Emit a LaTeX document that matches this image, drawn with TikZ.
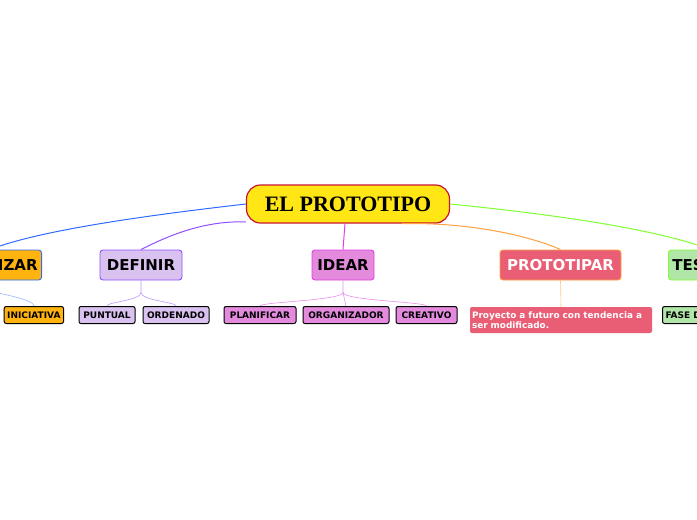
\documentclass[tikz,border=0pt]{standalone}
\usepackage{fontspec}
\setmainfont{DejaVu Sans}
\newfontfamily\titlefont{Liberation Serif}
\begin{document}
\begin{tikzpicture}[x=1pt,y=-1pt,
 branch/.style={draw,line width=0.9pt,rounded corners=3pt,minimum height=30pt,inner xsep=4pt,font=\bfseries\fontsize{15}{15}\selectfont,text=black},
 leaf/.style={draw=black,line width=1pt,rounded corners=2pt,minimum height=17pt,inner xsep=3pt,font=\bfseries\fontsize{9}{9}\selectfont},
 edge/.style={line width=1pt},
 sub/.style={line width=0.6pt}]
\useasboundingbox (0,0) rectangle (697,520);
\clip (0,0) rectangle (697,520);
\definecolor{orB}{HTML}{FFB30F}\definecolor{blB}{HTML}{2F6BFF}
\definecolor{dfF}{HTML}{D9C2F0}\definecolor{dfB}{HTML}{9050FF}
\definecolor{idF}{HTML}{E38ADD}\definecolor{idB}{HTML}{E040E0}
\definecolor{prF}{HTML}{E95E75}\definecolor{prB}{HTML}{FFA040}
\definecolor{tsF}{HTML}{B0E6A8}\definecolor{tsB}{HTML}{80FF30}
\node[draw={rgb,255:red,200;green,20;blue,50},fill={rgb,255:red,255;green,230;blue,20},line width=1.2pt,rounded corners=14pt,minimum width=203pt,minimum height=38pt,font=\titlefont\bfseries\fontsize{22}{22}\selectfont] (root) at (348,204) {EL PROTOTIPO};
\node[branch,fill=orB,draw=blB,anchor=east] (emp) at (42,265) {EMPATIZAR};
\node[branch,fill=dfF,draw=dfB,minimum width=82pt] (def) at (141,265) {DEFINIR};
\node[branch,fill=idF,draw=idB,minimum width=62pt] (ide) at (343,265) {IDEAR};
\node[branch,fill=prF,draw=prB,minimum width=121pt,text=white] (pro) at (560.5,265) {PROTOTIPAR};
\node[branch,fill=tsF,draw=tsB,anchor=west] (tes) at (668,265) {TESTEAR};
\node[leaf,fill=orB,anchor=east] (ini) at (64,315) {INICIATIVA};
\node[leaf,fill=dfF,minimum width=56pt] (pun) at (107,315) {PUNTUAL};
\node[leaf,fill=dfF,minimum width=66pt] (ord) at (176,315) {ORDENADO};
\node[leaf,fill=idF,minimum width=72pt] (pla) at (260,315) {PLANIFICAR};
\node[leaf,fill=idF,minimum width=86pt] (org) at (346,315) {ORGANIZADOR};
\node[leaf,fill=idF,minimum width=61pt] (cre) at (426.5,315) {CREATIVO};
\node[fill=prF,text=white,rounded corners=2pt,minimum width=182pt,minimum height=26pt,text width=178pt,align=left,inner xsep=2pt,font=\bfseries\fontsize{8.9}{10.5}\selectfont] (txt) at (561,320) {Proyecto a futuro con tendencia a\\ser modificado.};
\node[leaf,fill=tsF,anchor=west] (fas) at (662,315) {FASE DE PRUEBA};
% root edges
\draw[edge,draw=blB] (root.west) .. controls (150,215) and (40,230) .. (emp.north);
\draw[edge,draw=dfB] (root.190) .. controls (200,220) and (160,240) .. (def.north);
\draw[edge,draw=idB] (root.south-|ide.north) ++(2,0) -- (ide.north);
\draw[edge,draw=prB] (root.-20) .. controls (480,222) and (540,240) .. (pro.north);
\draw[edge,draw=tsB] (root.east) .. controls (560,215) and (660,230) .. (tes.north);
% sub edges
\draw[sub,draw=blB!50] (emp.south) ++(-25,0) .. controls +(0,10) and +(0,-10) .. (ini.north);
\draw[sub,draw=dfB!60] (def.south) -- ++(0,12) .. controls +(0,8) and +(0,-4) .. (pun.north);
\draw[sub,draw=dfB!60] (def.south) ++(0,12) .. controls +(0,8) and +(0,-4) .. (ord.north);
\draw[sub,draw=idB!60] (ide.south) -- ++(0,12) .. controls +(0,8) and +(0,-4) .. (pla.north);
\draw[sub,draw=idB!60] (ide.south) ++(0,12) -- (org.north);
\draw[sub,draw=idB!60] (ide.south) ++(0,12) .. controls +(0,8) and +(0,-4) .. (cre.north);
\draw[sub,draw=prB!60] (pro.south) -- (txt.north);
\end{tikzpicture}
\end{document}
